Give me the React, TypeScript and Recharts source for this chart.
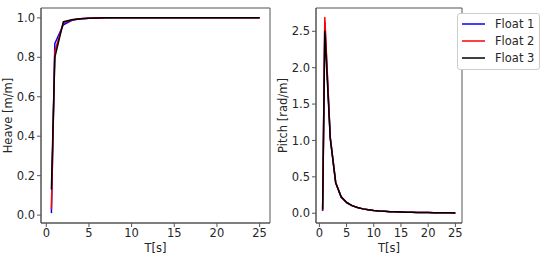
import { LineChart, Line, XAxis, YAxis, ReferenceArea, Legend } from 'recharts';

const periods = [0.6, 1, 2, 3, 4, 5, 6, 7, 8, 9, 10, 11, 12, 13, 14, 15, 16, 17, 18, 19, 20, 21, 22, 23, 24, 25];

const heave1 = [0.01, 0.87, 0.965, 0.988, 0.995, 0.998, 0.999, 1, 1, 1, 1, 1, 1, 1, 1, 1, 1, 1, 1, 1, 1, 1, 1, 1, 1, 1];
const heave2 = [0.03, 0.83, 0.975, 0.99, 0.996, 0.998, 0.999, 1, 1, 1, 1, 1, 1, 1, 1, 1, 1, 1, 1, 1, 1, 1, 1, 1, 1, 1];
const heave3 = [0.13, 0.8, 0.98, 0.99, 0.996, 0.998, 0.999, 1, 1, 1, 1, 1, 1, 1, 1, 1, 1, 1, 1, 1, 1, 1, 1, 1, 1, 1];

const pitch1 = [0.03, 2.62, 1.04, 0.42, 0.225, 0.148, 0.105, 0.08, 0.06, 0.047, 0.038, 0.031, 0.026, 0.022, 0.019, 0.016, 0.014, 0.012, 0.011, 0.01, 0.009, 0.008, 0.007, 0.006, 0.006, 0.005];
const pitch2 = [0.04, 2.69, 1.04, 0.42, 0.225, 0.148, 0.105, 0.08, 0.06, 0.047, 0.038, 0.031, 0.026, 0.022, 0.019, 0.016, 0.014, 0.012, 0.011, 0.01, 0.009, 0.008, 0.007, 0.006, 0.006, 0.005];
const pitch3 = [0.05, 2.5, 1.03, 0.42, 0.225, 0.148, 0.105, 0.08, 0.06, 0.047, 0.038, 0.031, 0.026, 0.022, 0.019, 0.016, 0.014, 0.012, 0.011, 0.01, 0.009, 0.008, 0.007, 0.006, 0.006, 0.005];

const xTicks = [0, 5, 10, 15, 20, 25];
const heaveTicks = [0, 0.2, 0.4, 0.6, 0.8, 1.0];
const pitchTicks = [0, 0.5, 1.0, 1.5, 2.0, 2.5];

const seriesNames = ['Float 1', 'Float 2', 'Float 3'];
const seriesColors = ['#0000ff', '#ff0000', '#000000'];

const FONT = '"DejaVu Sans", sans-serif';
const TEXT = '#262626';
const FRAME = '#555';
const X_DOMAIN: [number, number] = [-0.62, 26.22];

function buildRows(a: number[], b: number[], c: number[]) {
  return periods.map((t, i) => ({ t, s1: a[i], s2: b[i], s3: c[i] }));
}

function LegendBox() {
  return (
    <div
      style={{
        boxSizing: 'border-box',
        width: 83,
        border: '1px solid #ccc',
        borderRadius: 3,
        background: '#fff',
        padding: '1px 2px 3px 4px',
        fontFamily: FONT,
        fontSize: 11.5,
        color: TEXT,
        whiteSpace: 'nowrap',
      }}
    >
      {seriesNames.map((name, i) => (
        <div key={name} style={{ display: 'flex', alignItems: 'center', height: 17 }}>
          <svg width={23} height={4} style={{ flexShrink: 0, marginRight: 10 }}>
            <line x1={0} y1={2} x2={23} y2={2} stroke={seriesColors[i]} strokeWidth={1.5} />
          </svg>
          <span>{name}</span>
        </div>
      ))}
    </div>
  );
}

interface PanelProps {
  rows: { t: number; s1: number; s2: number; s3: number }[];
  yDomain: [number, number];
  yTicks: number[];
  yLabel: string;
  legend?: boolean;
}

function Panel({ rows, yDomain, yTicks, yLabel, legend }: PanelProps) {
  const tick = { fill: TEXT, fontSize: 11.5, fontFamily: FONT };
  return (
    <LineChart width={275} height={259} data={rows} margin={{ top: 8, right: 5, bottom: 0, left: 0 }}>
      <XAxis
        dataKey="t"
        type="number"
        domain={X_DOMAIN}
        ticks={xTicks}
        allowDataOverflow
        height={36}
        tick={tick}
        tickSize={4}
        tickMargin={2}
        stroke={FRAME}
        label={{
          content: ({ viewBox }: any) => (
            <text
              x={viewBox.x + viewBox.width / 2}
              y={248}
              textAnchor="middle"
              dominantBaseline="central"
              fill={TEXT}
              fontSize={11.5}
              fontFamily={FONT}
            >
              T[s]
            </text>
          ),
        }}
      />
      <YAxis
        type="number"
        domain={yDomain}
        ticks={yTicks}
        allowDataOverflow
        width={41}
        tick={tick}
        tickSize={4}
        tickMargin={2}
        tickFormatter={(v: number) => v.toFixed(1)}
        stroke={FRAME}
        label={{
          content: ({ viewBox }: any) => (
            <text
              x={8}
              y={viewBox.y + viewBox.height / 2}
              transform={`rotate(-90, 8, ${viewBox.y + viewBox.height / 2})`}
              textAnchor="middle"
              dominantBaseline="central"
              fill={TEXT}
              fontSize={11.5}
              fontFamily={FONT}
            >
              {yLabel}
            </text>
          ),
        }}
      />
      <ReferenceArea
        x1={X_DOMAIN[0]}
        x2={X_DOMAIN[1]}
        y1={yDomain[0]}
        y2={yDomain[1]}
        fill="none"
        stroke={FRAME}
        strokeWidth={1}
      />
      {['s1', 's2', 's3'].map((key, i) => (
        <Line
          key={key}
          dataKey={key}
          stroke={seriesColors[i]}
          strokeWidth={1.5}
          strokeLinejoin="round"
          strokeLinecap="butt"
          dot={false}
          isAnimationActive={false}
        />
      ))}
      {legend && (
        <Legend
          content={() => <LegendBox />}
          layout="vertical"
          verticalAlign="top"
          align="right"
          wrapperStyle={{ position: 'absolute', top: 13, left: 182, width: 83 }}
        />
      )}
    </LineChart>
  );
}

export default function App() {
  return (
    <div style={{ position: 'absolute', left: 0, top: 0, width: 550, height: 259, display: 'flex', background: '#fff' }}>
      <Panel rows={buildRows(heave1, heave2, heave3)} yDomain={[-0.04, 1.05]} yTicks={heaveTicks} yLabel="Heave [m/m]" />
      <Panel rows={buildRows(pitch1, pitch2, pitch3)} yDomain={[-0.134, 2.82]} yTicks={pitchTicks} yLabel="Pitch [rad/m]" legend />
    </div>
  );
}
